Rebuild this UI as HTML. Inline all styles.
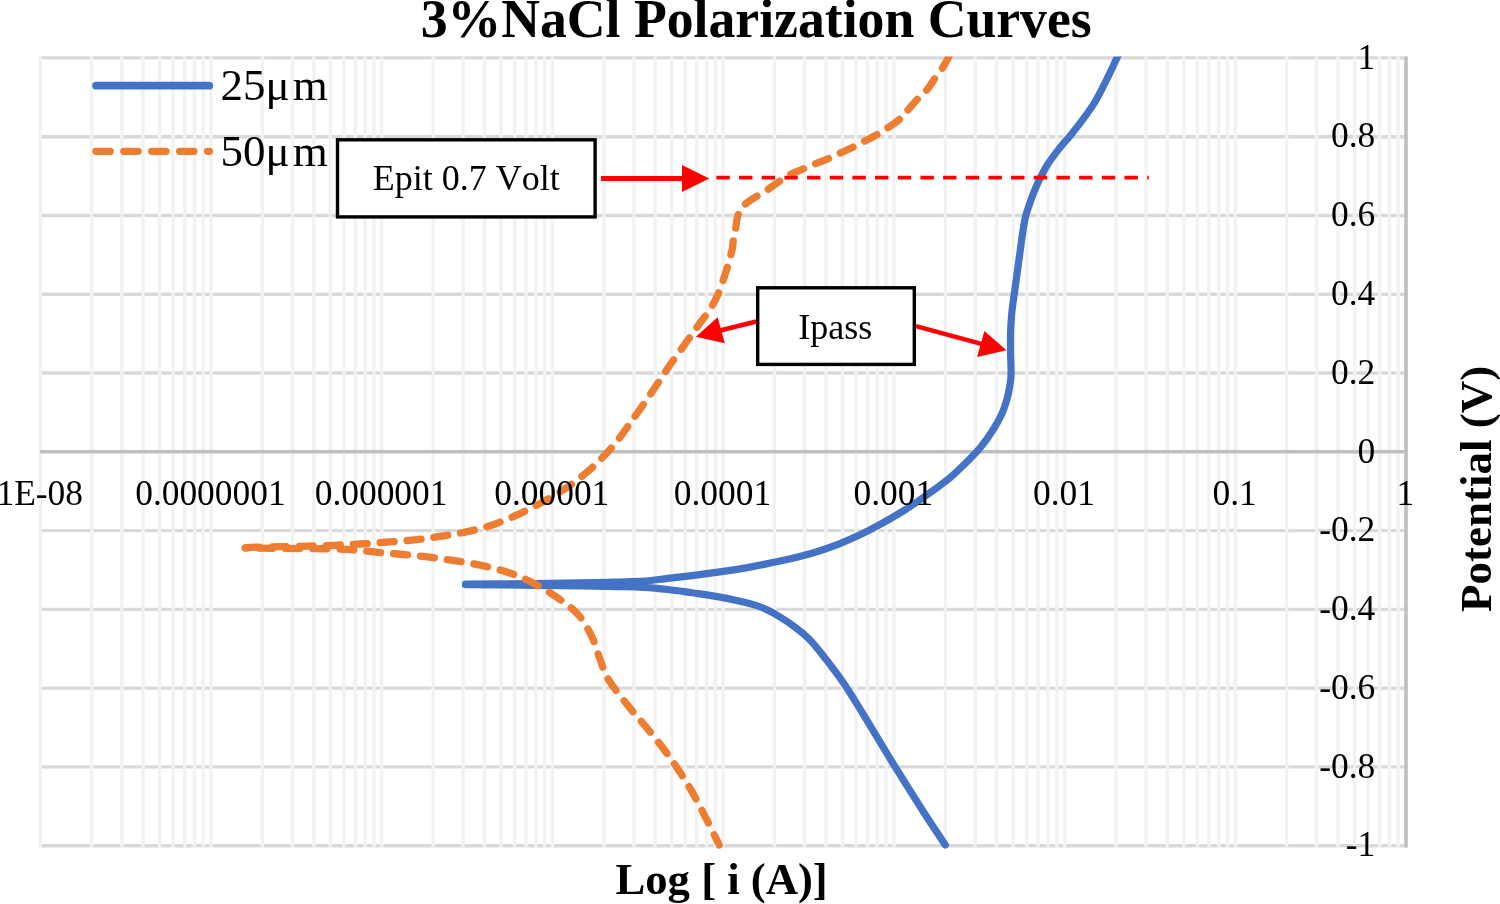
<!DOCTYPE html>
<html lang="en"><head><meta charset="utf-8"><title>3%NaCl Polarization Curves</title>
<style>html,body{margin:0;padding:0;background:#fff;}body{width:1500px;height:904px;overflow:hidden;}svg{display:block;}text{font-family:"Liberation Serif","Times New Roman",serif;fill:#000;font-kerning:none;}.tick{font-size:35.4px;}.b{font-weight:bold;}</style></head><body>
<svg width="1500" height="904" viewBox="0 0 1500 904">
<rect width="1500" height="904" fill="#fff"/>
<g stroke="#d9d9d9" stroke-width="3.4">
<line x1="39.9" y1="57.9" x2="1407.8" y2="57.9"/>
<line x1="39.9" y1="136.7" x2="1407.8" y2="136.7"/>
<line x1="39.9" y1="215.5" x2="1407.8" y2="215.5"/>
<line x1="39.9" y1="294.2" x2="1407.8" y2="294.2"/>
<line x1="39.9" y1="373.0" x2="1407.8" y2="373.0"/>
<line x1="39.9" y1="530.6" x2="1407.8" y2="530.6"/>
<line x1="39.9" y1="609.4" x2="1407.8" y2="609.4"/>
<line x1="39.9" y1="688.1" x2="1407.8" y2="688.1"/>
<line x1="39.9" y1="766.9" x2="1407.8" y2="766.9"/>
<line x1="39.9" y1="845.7" x2="1407.8" y2="845.7"/>
</g>
<g stroke="#f2f2f2" stroke-width="3.3">
<line x1="40.3" y1="56.2" x2="40.3" y2="847.4"/>
<line x1="91.7" y1="56.2" x2="91.7" y2="847.4"/>
<line x1="121.8" y1="56.2" x2="121.8" y2="847.4"/>
<line x1="143.1" y1="56.2" x2="143.1" y2="847.4"/>
<line x1="159.6" y1="56.2" x2="159.6" y2="847.4"/>
<line x1="173.1" y1="56.2" x2="173.1" y2="847.4"/>
<line x1="184.6" y1="56.2" x2="184.6" y2="847.4"/>
<line x1="194.5" y1="56.2" x2="194.5" y2="847.4"/>
<line x1="203.2" y1="56.2" x2="203.2" y2="847.4"/>
<line x1="211.0" y1="56.2" x2="211.0" y2="847.4"/>
<line x1="262.4" y1="56.2" x2="262.4" y2="847.4"/>
<line x1="292.5" y1="56.2" x2="292.5" y2="847.4"/>
<line x1="313.8" y1="56.2" x2="313.8" y2="847.4"/>
<line x1="330.3" y1="56.2" x2="330.3" y2="847.4"/>
<line x1="343.9" y1="56.2" x2="343.9" y2="847.4"/>
<line x1="355.3" y1="56.2" x2="355.3" y2="847.4"/>
<line x1="365.2" y1="56.2" x2="365.2" y2="847.4"/>
<line x1="373.9" y1="56.2" x2="373.9" y2="847.4"/>
<line x1="381.7" y1="56.2" x2="381.7" y2="847.4"/>
<line x1="433.1" y1="56.2" x2="433.1" y2="847.4"/>
<line x1="463.2" y1="56.2" x2="463.2" y2="847.4"/>
<line x1="484.5" y1="56.2" x2="484.5" y2="847.4"/>
<line x1="501.0" y1="56.2" x2="501.0" y2="847.4"/>
<line x1="514.6" y1="56.2" x2="514.6" y2="847.4"/>
<line x1="526.0" y1="56.2" x2="526.0" y2="847.4"/>
<line x1="535.9" y1="56.2" x2="535.9" y2="847.4"/>
<line x1="544.6" y1="56.2" x2="544.6" y2="847.4"/>
<line x1="552.4" y1="56.2" x2="552.4" y2="847.4"/>
<line x1="603.8" y1="56.2" x2="603.8" y2="847.4"/>
<line x1="633.9" y1="56.2" x2="633.9" y2="847.4"/>
<line x1="655.2" y1="56.2" x2="655.2" y2="847.4"/>
<line x1="671.8" y1="56.2" x2="671.8" y2="847.4"/>
<line x1="685.3" y1="56.2" x2="685.3" y2="847.4"/>
<line x1="696.7" y1="56.2" x2="696.7" y2="847.4"/>
<line x1="706.6" y1="56.2" x2="706.6" y2="847.4"/>
<line x1="715.3" y1="56.2" x2="715.3" y2="847.4"/>
<line x1="723.1" y1="56.2" x2="723.1" y2="847.4"/>
<line x1="774.5" y1="56.2" x2="774.5" y2="847.4"/>
<line x1="804.6" y1="56.2" x2="804.6" y2="847.4"/>
<line x1="825.9" y1="56.2" x2="825.9" y2="847.4"/>
<line x1="842.5" y1="56.2" x2="842.5" y2="847.4"/>
<line x1="856.0" y1="56.2" x2="856.0" y2="847.4"/>
<line x1="867.4" y1="56.2" x2="867.4" y2="847.4"/>
<line x1="877.3" y1="56.2" x2="877.3" y2="847.4"/>
<line x1="886.1" y1="56.2" x2="886.1" y2="847.4"/>
<line x1="893.9" y1="56.2" x2="893.9" y2="847.4"/>
<line x1="945.3" y1="56.2" x2="945.3" y2="847.4"/>
<line x1="975.3" y1="56.2" x2="975.3" y2="847.4"/>
<line x1="996.6" y1="56.2" x2="996.6" y2="847.4"/>
<line x1="1013.2" y1="56.2" x2="1013.2" y2="847.4"/>
<line x1="1026.7" y1="56.2" x2="1026.7" y2="847.4"/>
<line x1="1038.1" y1="56.2" x2="1038.1" y2="847.4"/>
<line x1="1048.0" y1="56.2" x2="1048.0" y2="847.4"/>
<line x1="1056.8" y1="56.2" x2="1056.8" y2="847.4"/>
<line x1="1064.6" y1="56.2" x2="1064.6" y2="847.4"/>
<line x1="1116.0" y1="56.2" x2="1116.0" y2="847.4"/>
<line x1="1146.0" y1="56.2" x2="1146.0" y2="847.4"/>
<line x1="1167.4" y1="56.2" x2="1167.4" y2="847.4"/>
<line x1="1183.9" y1="56.2" x2="1183.9" y2="847.4"/>
<line x1="1197.4" y1="56.2" x2="1197.4" y2="847.4"/>
<line x1="1208.8" y1="56.2" x2="1208.8" y2="847.4"/>
<line x1="1218.7" y1="56.2" x2="1218.7" y2="847.4"/>
<line x1="1227.5" y1="56.2" x2="1227.5" y2="847.4"/>
<line x1="1235.3" y1="56.2" x2="1235.3" y2="847.4"/>
<line x1="1286.7" y1="56.2" x2="1286.7" y2="847.4"/>
<line x1="1316.7" y1="56.2" x2="1316.7" y2="847.4"/>
<line x1="1338.1" y1="56.2" x2="1338.1" y2="847.4"/>
<line x1="1354.6" y1="56.2" x2="1354.6" y2="847.4"/>
<line x1="1368.1" y1="56.2" x2="1368.1" y2="847.4"/>
<line x1="1379.6" y1="56.2" x2="1379.6" y2="847.4"/>
<line x1="1389.5" y1="56.2" x2="1389.5" y2="847.4"/>
<line x1="1398.2" y1="56.2" x2="1398.2" y2="847.4"/>
</g>
<g stroke="#bfbfbf" stroke-width="3.6">
<line x1="39.9" y1="451.8" x2="1407.8" y2="451.8"/>
<line x1="1406.0" y1="56.7" x2="1406.0" y2="847.5"/>
</g>
<defs><clipPath id="pc"><rect x="38.3" y="56.4" width="1369.7" height="793.8"/></clipPath></defs>
<g clip-path="url(#pc)" fill="none" stroke-linejoin="round" stroke-linecap="round">
<path d="M1119.5 52.0 C1119.1 53.0 1119.4 52.5 1117.0 57.7 C1114.6 62.9 1108.6 75.8 1104.9 83.2 C1101.2 90.6 1098.6 95.9 1094.9 102.0 C1091.2 108.1 1086.8 114.2 1082.7 119.7 C1078.7 125.2 1074.6 130.2 1070.6 135.2 C1066.5 140.2 1062.3 144.6 1058.4 149.6 C1054.5 154.6 1050.2 160.4 1047.3 165.0 C1044.3 169.6 1042.9 172.8 1040.7 177.2 C1038.5 181.6 1036.1 186.6 1034.1 191.6 C1032.1 196.6 1030.0 202.7 1028.5 207.1 C1027.0 211.5 1026.3 212.9 1025.2 218.1 C1024.1 223.2 1022.7 232.9 1021.9 238.0 C1021.1 243.1 1021.3 242.8 1020.5 248.5 C1019.7 254.2 1018.4 264.0 1017.3 272.0 C1016.2 280.0 1014.8 289.4 1013.9 296.4 C1013.0 303.4 1012.2 308.2 1011.7 314.1 C1011.2 320.0 1010.8 325.2 1010.6 331.8 C1010.4 338.4 1010.5 346.9 1010.6 353.9 C1010.7 360.9 1011.2 368.6 1011.1 373.8 C1011.0 379.0 1010.7 380.7 1010.0 384.9 C1009.3 389.1 1008.4 394.1 1007.0 399.0 C1005.6 403.9 1004.2 408.8 1001.8 414.0 C999.4 419.2 996.0 425.1 992.6 430.5 C989.2 435.9 985.3 441.4 981.2 446.5 C977.1 451.6 973.1 455.7 968.0 460.8 C962.9 465.9 956.9 471.9 950.3 477.4 C943.6 482.9 935.9 488.5 928.1 494.0 C920.4 499.5 912.6 505.1 903.8 510.6 C894.9 516.1 882.3 523.2 875.0 527.2 C867.7 531.2 866.5 531.8 860.0 534.8 C853.5 537.8 844.0 542.1 836.0 545.2 C828.0 548.3 820.0 550.9 812.0 553.2 C804.0 555.6 796.0 557.4 788.0 559.3 C780.0 561.2 772.0 562.8 764.0 564.4 C756.0 566.0 748.0 567.6 740.0 568.9 C732.0 570.2 724.0 571.3 716.0 572.4 C708.0 573.5 700.0 574.6 692.0 575.6 C684.0 576.6 676.0 577.5 668.0 578.4 C660.0 579.3 652.0 580.6 644.0 581.2 C636.0 581.8 626.0 581.8 620.0 582.0 C614.0 582.2 614.7 582.2 608.0 582.4 C601.3 582.5 592.0 582.7 580.0 582.9 C568.0 583.1 555.1 583.4 536.0 583.6 C516.9 583.8 477.3 584.1 465.6 584.2" stroke="#4472c4" stroke-width="7.2"/>
<path d="M465.6 584.6 C477.3 584.7 516.9 585.1 536.0 585.3 C555.1 585.5 568.0 585.8 580.0 586.0 C592.0 586.2 601.3 586.4 608.0 586.5 C614.7 586.6 614.0 586.6 620.0 586.7 C626.0 586.8 636.0 586.8 644.0 587.3 C652.0 587.8 660.0 588.6 668.0 589.5 C676.0 590.4 684.0 591.6 692.0 592.7 C700.0 593.9 708.0 595.0 716.0 596.4 C724.0 597.8 733.3 599.7 740.0 601.2 C746.7 602.7 751.3 603.9 756.0 605.4 C760.7 606.9 764.0 608.3 768.0 610.2 C772.0 612.1 775.3 614.1 780.0 617.0 C784.7 619.9 791.2 624.2 796.0 627.8 C800.8 631.4 805.0 635.0 808.8 638.8 C812.6 642.6 815.0 645.6 819.0 650.6 C823.0 655.6 829.0 663.2 833.0 668.5 C837.0 673.8 839.5 677.1 843.2 682.5 C846.9 687.9 851.1 694.7 855.0 700.9 C858.9 707.1 862.7 713.4 866.5 719.7 C870.3 726.0 874.1 732.3 878.0 738.7 C881.9 745.1 885.9 751.8 889.7 758.0 C893.5 764.2 897.1 770.0 901.0 776.2 C904.9 782.4 909.4 789.7 912.9 795.2 C916.4 800.8 918.9 804.7 922.0 809.5 C925.1 814.3 927.6 818.3 931.5 824.2 C935.4 830.1 943.0 841.5 945.3 845.0" stroke="#4472c4" stroke-width="7.2"/>
<path d="M245.3 547.9 C247.1 547.8 249.9 547.4 256.0 547.2 C262.1 547.0 273.3 546.9 282.0 546.7 C290.7 546.5 299.3 546.3 308.0 546.1 C316.7 545.9 325.3 545.6 334.0 545.3 C342.7 544.9 351.3 544.5 360.0 544.0 C368.7 543.5 377.3 542.9 386.0 542.2 C394.7 541.6 403.3 541.0 412.0 540.1 C420.7 539.2 429.3 538.0 438.0 536.7 C446.7 535.4 455.3 534.1 464.0 532.3 C472.7 530.5 481.3 528.6 490.0 525.8 C498.7 523.0 507.3 519.3 516.0 515.4 C524.7 511.5 533.3 507.2 542.0 502.4 C550.7 497.6 560.4 491.9 568.0 486.8 C575.6 481.7 582.1 476.2 587.7 471.5 C593.3 466.8 596.9 463.2 601.5 458.5 C606.1 453.8 610.8 448.8 615.2 443.4 C619.6 438.0 623.4 432.5 627.8 426.4 C632.2 420.3 636.9 413.7 641.6 407.0 C646.3 400.3 651.1 393.2 655.8 386.3 C660.5 379.4 664.8 372.4 669.6 365.5 C674.4 358.6 679.7 351.5 684.5 344.8 C689.3 338.1 694.1 331.2 698.3 325.4 C702.4 319.6 706.2 315.3 709.4 310.2 C712.6 305.1 714.9 301.4 717.7 295.0 C720.5 288.6 723.6 279.1 726.0 271.5 C728.4 263.9 730.9 254.8 732.1 249.7 C733.3 244.6 732.6 244.4 733.2 241.0 C733.8 237.6 735.0 232.2 735.6 229.0 C736.2 225.8 736.2 223.9 736.6 221.5 C737.0 219.1 737.5 216.7 738.2 214.6 C738.9 212.5 739.4 211.0 740.6 209.2 C741.8 207.4 743.0 205.9 745.5 203.9 C748.0 201.9 751.8 199.3 755.3 197.1 C758.8 194.9 762.7 192.9 766.4 190.5 C770.1 188.1 773.5 185.3 777.4 182.7 C781.3 180.1 785.5 177.0 789.6 174.8 C793.7 172.6 797.6 171.3 801.8 169.5 C806.0 167.7 810.8 165.6 815.0 163.9 C819.2 162.2 823.0 160.9 827.2 159.1 C831.5 157.3 836.2 154.9 840.5 152.9 C844.8 150.9 848.7 149.3 852.7 147.3 C856.8 145.3 860.8 143.1 864.8 141.0 C868.8 138.9 872.9 137.0 877.0 134.6 C881.1 132.2 885.3 129.4 889.2 126.8 C893.1 124.2 896.9 121.7 900.2 118.7 C903.5 115.7 906.2 111.9 909.1 108.6 C912.0 105.3 914.8 102.0 917.9 98.7 C921.0 95.4 925.1 92.0 927.9 88.7 C930.7 85.4 931.9 82.5 934.5 78.8 C937.1 75.1 941.1 70.1 943.4 66.6 C945.7 63.1 946.9 60.1 948.2 57.7 C949.5 55.3 950.8 53.0 951.3 52.0" stroke="#ed7d31" stroke-width="7.3" stroke-dasharray="14 13"/>
<path d="M245.3 547.9 C251.4 548.0 267.2 548.2 282.0 548.4 C296.8 548.6 321.0 548.5 334.0 548.9 C347.0 549.2 351.3 549.8 360.0 550.5 C368.7 551.2 377.3 552.3 386.0 553.1 C394.7 553.9 403.3 554.3 412.0 555.2 C420.7 556.1 429.3 557.1 438.0 558.3 C446.7 559.5 455.3 560.7 464.0 562.2 C472.7 563.7 481.3 565.2 490.0 567.4 C498.7 569.6 507.7 572.0 516.0 575.2 C524.3 578.4 532.5 582.6 540.0 586.8 C547.5 591.0 554.5 595.4 561.0 600.2 C567.5 605.0 573.8 609.3 579.0 615.5 C584.2 621.7 588.7 630.0 592.2 637.4 C595.7 644.8 597.5 652.8 600.2 659.8 C602.9 666.8 603.9 671.9 608.2 679.1 C612.5 686.3 620.0 695.6 625.9 703.1 C631.8 710.6 637.6 716.9 643.5 724.0 C649.4 731.1 655.9 738.8 661.2 745.8 C666.6 752.8 670.8 758.6 675.6 765.7 C680.4 772.8 685.2 779.9 690.0 788.2 C694.8 796.5 699.6 805.9 704.5 815.4 C709.4 824.9 716.8 840.1 719.2 845.0" stroke="#ed7d31" stroke-width="7.3" stroke-dasharray="14 13" stroke-dashoffset="13.5"/>
</g>
<line x1="96.1" y1="85.65" x2="209.2" y2="85.65" stroke="#4472c4" stroke-width="7.8" stroke-linecap="round"/>
<line x1="95.9" y1="151.3" x2="209.4" y2="151.3" stroke="#ed7d31" stroke-width="7.3" stroke-linecap="round" stroke-dasharray="14.3 13.6"/>
<text x="220.6" y="99.9" font-size="45">25μ<tspan dx="3">m</tspan></text>
<text x="220.6" y="165.7" font-size="45">50μ<tspan dx="3">m</tspan></text>
<g class="tick" text-anchor="middle">
<text x="39.7" y="504.6">1E-08</text>
<text x="210.4" y="504.6">0.0000001</text>
<text x="381.1" y="504.6">0.000001</text>
<text x="551.8" y="504.6">0.00001</text>
<text x="722.5" y="504.6">0.0001</text>
<text x="893.3" y="504.6">0.001</text>
<text x="1064.0" y="504.6">0.01</text>
<text x="1234.7" y="504.6">0.1</text>
<text x="1405.4" y="504.6">1</text>
</g>
<g class="tick" text-anchor="end">
<text x="1375.3" y="68.6">1</text>
<text x="1375.3" y="147.4">0.8</text>
<text x="1375.3" y="226.2">0.6</text>
<text x="1375.3" y="304.9">0.4</text>
<text x="1375.3" y="383.7">0.2</text>
<text x="1375.3" y="462.5">0</text>
<text x="1375.3" y="541.3">-0.2</text>
<text x="1375.3" y="620.1">-0.4</text>
<text x="1375.3" y="698.8">-0.6</text>
<text x="1375.3" y="777.6">-0.8</text>
<text x="1375.3" y="856.4">-1</text>
</g>
<text class="b" font-size="53.7" text-anchor="middle" transform="translate(756.2 37) scale(1 1.04)">3%NaCl Polarization Curves</text>
<text class="b" x="721.6" y="894.3" font-size="44.7" text-anchor="middle">Log [ i (A)]</text>
<text class="b" font-size="45" text-anchor="middle" transform="translate(1491 488.9) rotate(-90)">Potential (V)</text>
<rect x="337.5" y="139.8" width="257.6" height="77.1" fill="#fff" stroke="#000" stroke-width="3.4"/>
<text x="466.2" y="190.4" font-size="36" text-anchor="middle">Epit 0.7 Volt</text>
<rect x="757.7" y="287.8" width="156.6" height="76.6" fill="#fff" stroke="#000" stroke-width="3.4"/>
<text x="835.2" y="338.8" font-size="36" text-anchor="middle">Ipass</text>
<g stroke="#ff0000" fill="#ff0000">
<line x1="601" y1="178.6" x2="690" y2="178.6" stroke-width="5"/>
<polygon points="709.3,178.5 682,164.9 682,192.1" stroke="none"/>
<line x1="716.4" y1="177.7" x2="1148.7" y2="177.7" stroke-width="3.7" stroke-dasharray="13.4 9.27"/>
<line x1="756.3" y1="321.4" x2="716" y2="331.6" stroke-width="4.6"/>
<polygon points="695.9,336.7 717.6,317.3 724.8,343.3" stroke="none"/>
<line x1="915.9" y1="326.1" x2="985" y2="344.9" stroke-width="4.6"/>
<polygon points="1006.5,350.3 984.4,330.9 977.1,356.9" stroke="none"/>
</g>
</svg></body></html>
